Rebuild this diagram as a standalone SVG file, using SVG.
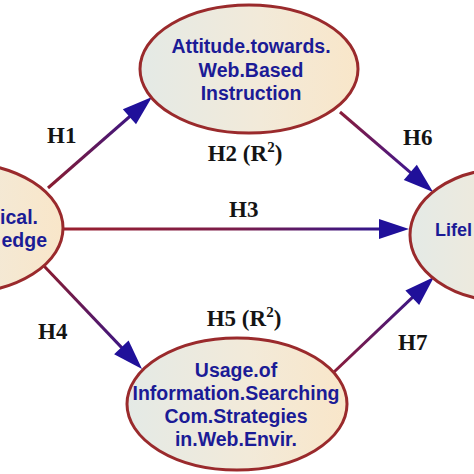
<svg xmlns="http://www.w3.org/2000/svg" width="474" height="474" viewBox="0 0 474 474">
<style>
.node{stroke:#9a2a2c;stroke-width:3;fill:url(#fillg)}
.nt{font-family:"Liberation Sans",Arial,sans-serif;font-weight:bold;font-size:19.5px;fill:#1b1b96}
.lbl{font-family:"Liberation Serif","Times New Roman",serif;font-weight:bold;font-size:23px;fill:#141414}
.edge{fill:none;stroke-width:3;marker-end:url(#ah)}
</style>
<defs>
<linearGradient id="fillg" x1="0" y1="0" x2="1" y2="0">
<stop offset="0" stop-color="#e4eae6"/>
<stop offset="0.55" stop-color="#f2ead9"/>
<stop offset="1" stop-color="#f9e6c9"/>
</linearGradient>
<linearGradient id="g1" gradientUnits="userSpaceOnUse" x1="48" y1="188" x2="152" y2="97"><stop offset="0" stop-color="#8a1c2e"/><stop offset="1" stop-color="#2a1496"/></linearGradient>
<linearGradient id="g3" gradientUnits="userSpaceOnUse" x1="63" y1="229" x2="409" y2="229"><stop offset="0" stop-color="#9a1f2e"/><stop offset="0.5" stop-color="#7a1c4a"/><stop offset="1" stop-color="#22149a"/></linearGradient>
<linearGradient id="g4" gradientUnits="userSpaceOnUse" x1="44" y1="266" x2="142" y2="369"><stop offset="0" stop-color="#8a1c2e"/><stop offset="1" stop-color="#2a1496"/></linearGradient>
<linearGradient id="g6" gradientUnits="userSpaceOnUse" x1="340" y1="112" x2="433" y2="192"><stop offset="0" stop-color="#8a1c3a"/><stop offset="1" stop-color="#2a14a6"/></linearGradient>
<linearGradient id="g7" gradientUnits="userSpaceOnUse" x1="334" y1="372" x2="434" y2="277"><stop offset="0" stop-color="#8a1c3a"/><stop offset="1" stop-color="#2a1496"/></linearGradient>
<marker id="ah" markerUnits="userSpaceOnUse" markerWidth="32" markerHeight="22" refX="5" refY="10" orient="auto" overflow="visible">
<path d="M0,0 L30,10 L0,20 z" fill="#20109a"/>
</marker>
</defs>
<g id="connectors">
<line class="edge" stroke="url(#g1)" x1="48" y1="188" x2="133.2" y2="113.5"/>
<line class="edge" stroke="url(#g3)" x1="63" y1="229" x2="384" y2="229"/>
<line class="edge" stroke="url(#g4)" x1="44" y1="266" x2="124.8" y2="350.9"/>
<line class="edge" stroke="url(#g6)" x1="340" y1="112" x2="414.1" y2="175.7"/>
<line class="edge" stroke="url(#g7)" x1="334" y1="372" x2="415.9" y2="294.2"/>
</g>
<g id="node-knowledge">
<ellipse class="node" cx="-40" cy="228" rx="103" ry="65"/>
<text class="nt" text-anchor="end" x="38" y="224">ical.</text>
<text class="nt" text-anchor="end" x="47" y="247">edge</text>
</g>
<g id="node-attitude">
<ellipse class="node" cx="249" cy="69" rx="109" ry="64"/>
<text class="nt" text-anchor="middle" x="251" y="53">Attitude.towards.</text>
<text class="nt" text-anchor="middle" x="251" y="77">Web.Based</text>
<text class="nt" text-anchor="middle" x="251" y="100">Instruction</text>
</g>
<g id="node-usage">
<ellipse class="node" cx="237" cy="404" rx="110" ry="66"/>
<text class="nt" text-anchor="middle" x="236" y="377">Usage.of</text>
<text class="nt" text-anchor="middle" x="236" y="400">Information.Searching</text>
<text class="nt" text-anchor="middle" x="236" y="423">Com.Strategies</text>
<text class="nt" text-anchor="middle" x="236" y="446">in.Web.Envir.</text>
</g>
<g id="node-lifelong">
<ellipse class="node" cx="505" cy="235" rx="95" ry="66"/>
<text class="nt" style="font-size:18px" x="435" y="236">Lifel</text>
</g>
<g id="labels">
<text class="lbl" x="47" y="143">H1</text>
<text class="lbl" text-anchor="middle" x="245" y="161">H2 (R<tspan font-size="15" dy="-9">2</tspan><tspan dy="9">)</tspan></text>
<text class="lbl" x="229" y="217">H3</text>
<text class="lbl" x="38" y="339">H4</text>
<text class="lbl" text-anchor="middle" x="244" y="326">H5 (R<tspan font-size="15" dy="-9">2</tspan><tspan dy="9">)</tspan></text>
<text class="lbl" x="403" y="145">H6</text>
<text class="lbl" x="398" y="350">H7</text>
</g>
</svg>
